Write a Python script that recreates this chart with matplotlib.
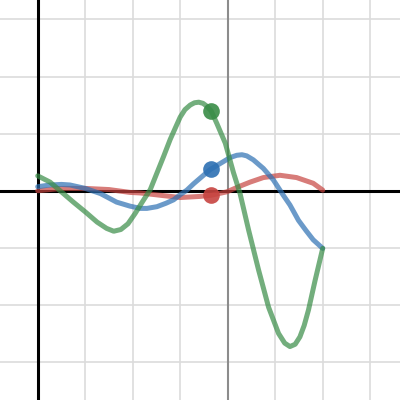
import matplotlib
matplotlib.use('Agg')
import matplotlib.pyplot as plt

# values
green_x = [0.0, 0.26, 0.47, 0.75, 1.0, 1.25, 1.45, 1.6, 1.75, 1.9, 2.05, 2.2, 2.37, 2.51, 2.65, 2.79,
           3.0, 3.1, 3.21, 3.3, 3.39, 3.48, 3.56, 3.65, 3.77, 3.95, 4.12, 4.26, 4.44, 4.65, 4.86,
           5.07, 5.2, 5.31, 5.42, 5.52, 5.61, 5.7, 5.84, 6.0]
green_y = [0.26, 0.15, 0.0, -0.2, -0.37, -0.55, -0.66, -0.71, -0.68, -0.58, -0.4, -0.2, 0.02, 0.31, 0.6, 0.9,
           1.29, 1.42, 1.5, 1.54, 1.55, 1.53, 1.48, 1.4, 1.18, 0.83, 0.32, -0.05, -0.69, -1.39, -2.04,
           -2.5, -2.67, -2.73, -2.69, -2.56, -2.36, -2.09, -1.57, -1.01]

blue_x = [0.0, 0.26, 0.5, 0.68, 1.0, 1.32, 1.66, 1.94, 2.16, 2.3, 2.51, 2.7, 2.86, 3.0, 3.14, 3.28, 3.42,
          3.63, 3.91, 4.05, 4.19, 4.3, 4.4, 4.54, 4.75, 4.96, 5.17, 5.31, 5.49, 5.65, 5.8, 6.0]
blue_y = [0.07, 0.1, 0.11, 0.1, 0.04, -0.05, -0.2, -0.27, -0.31, -0.31, -0.28, -0.22, -0.16, -0.07, 0.01, 0.12, 0.22,
          0.37, 0.51, 0.58, 0.62, 0.63, 0.61, 0.54, 0.39, 0.19, -0.08, -0.25, -0.52, -0.7, -0.86, -1.01]

red_x = [0.0, 0.5, 1.0, 1.5, 1.94, 2.16, 2.58, 3.0, 3.42, 3.65, 3.98, 4.26, 4.47, 4.75, 5.1, 5.45, 5.8, 6.0]
red_y = [0.0, 0.04, 0.04, 0.02, -0.03, -0.04, -0.08, -0.12, -0.1, -0.08, -0.02, 0.08, 0.15, 0.23, 0.27, 0.23, 0.13, 0.01]

t_now = 3.65
marker_x = 4.0
points_y = {'red': -0.075, 'blue': 0.375, 'green': 1.40}

RED = '#c74440'
BLUE = '#2d70b3'
GREEN = '#388c46'

fig = plt.figure(figsize=(4, 4), dpi=100)
ax = fig.add_axes([0, 0, 1, 1])
ax.set_xlim(-0.794, 7.627)
ax.set_ylim(-3.666, 3.34)
ax.axis('off')

for gx in range(-1, 8):
    ax.axvline(gx, color='#dcdcdc', lw=1.2, zorder=0)
for gy in range(-4, 4):
    ax.axhline(gy, color='#dcdcdc', lw=1.2, zorder=0)
ax.axvline(marker_x, color='#8c8c8c', lw=1.5, zorder=1)
ax.axhline(0, color='black', lw=2.2, zorder=1)
ax.axvline(0, color='black', lw=2.2, zorder=1)

style = dict(lw=3.6, alpha=0.7, solid_capstyle='round', solid_joinstyle='round')
ax.plot(red_x, red_y, color=RED, zorder=2, **style)
ax.plot(blue_x, blue_y, color=BLUE, zorder=3, **style)
ax.plot(green_x, green_y, color=GREEN, zorder=4, **style)

for name, col in [('red', RED), ('blue', BLUE), ('green', GREEN)]:
    ax.plot(t_now, points_y[name], 'o', color=col, ms=12, alpha=0.9, mec='none', zorder=5)

fig.savefig('out.png', dpi=100)
